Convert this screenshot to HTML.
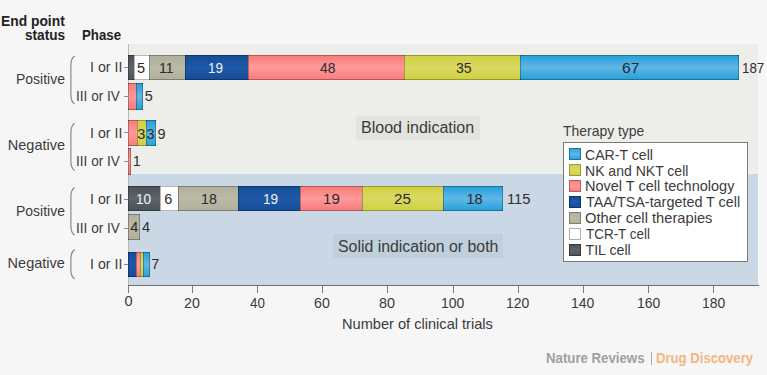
<!DOCTYPE html>
<html><head><meta charset="utf-8"><style>
html,body{margin:0;padding:0;}
body{width:767px;height:375px;position:relative;overflow:hidden;background:#f6f6f6;font-family:"Liberation Sans", sans-serif;}
.t{position:absolute;white-space:pre;transform-origin:0 0;}
</style></head><body>
<div style="position:absolute;left:128.30px;top:44.00px;width:630.20px;height:129.80px;background:#ededea;"></div>
<div style="position:absolute;left:128.30px;top:169.80px;width:630.20px;height:4.00px;background:linear-gradient(to bottom,#ededea,#f1f1ec);"></div>
<div style="position:absolute;left:128.30px;top:173.80px;width:630.20px;height:111.50px;background:#cad8e5;"></div>
<div style="position:absolute;left:356.10px;top:115.60px;width:123.70px;height:24.30px;background:#e3e3df;"></div>
<div style="position:absolute;left:333.00px;top:233.60px;width:170.30px;height:24.50px;background:#c0cfdc;"></div>
<div style="position:absolute;left:127.80px;top:44.00px;width:1.00px;height:249.00px;background:#b9b9b9;"></div>
<div style="position:absolute;left:128.30px;top:284.70px;width:630.50px;height:1.30px;background:#707070;"></div>
<div style="position:absolute;left:127.85px;top:285.50px;width:1.10px;height:7.50px;background:#7a7a7a;"></div>
<div style="position:absolute;left:191.87px;top:285.50px;width:1.10px;height:7.50px;background:#7a7a7a;"></div>
<div style="position:absolute;left:257.04px;top:285.50px;width:1.10px;height:7.50px;background:#7a7a7a;"></div>
<div style="position:absolute;left:322.22px;top:285.50px;width:1.10px;height:7.50px;background:#7a7a7a;"></div>
<div style="position:absolute;left:387.39px;top:285.50px;width:1.10px;height:7.50px;background:#7a7a7a;"></div>
<div style="position:absolute;left:452.56px;top:285.50px;width:1.10px;height:7.50px;background:#7a7a7a;"></div>
<div style="position:absolute;left:517.73px;top:285.50px;width:1.10px;height:7.50px;background:#7a7a7a;"></div>
<div style="position:absolute;left:582.90px;top:285.50px;width:1.10px;height:7.50px;background:#7a7a7a;"></div>
<div style="position:absolute;left:648.08px;top:285.50px;width:1.10px;height:7.50px;background:#7a7a7a;"></div>
<div style="position:absolute;left:713.25px;top:285.50px;width:1.10px;height:7.50px;background:#7a7a7a;"></div>
<div style="position:absolute;left:128.30px;top:55.00px;width:6.30px;height:25.30px;background:linear-gradient(to bottom,#4a5258 0%,#5d656b 50%,#4a5258 100%);box-shadow:inset 1px 0 0 rgba(0,0,0,0.28),inset 0 1px 0 rgba(0,0,0,0.28),inset 0 -1px 0 rgba(0,0,0,0.28);"></div>
<div style="position:absolute;left:134.00px;top:55.00px;width:15.90px;height:25.30px;background:linear-gradient(to bottom,#ffffff 0%,#ffffff 50%,#ffffff 100%);box-shadow:inset 1px 0 0 rgba(0,0,0,0.28),inset 0 1px 0 rgba(0,0,0,0.28),inset 0 -1px 0 rgba(0,0,0,0.28);"></div>
<div style="position:absolute;left:149.30px;top:55.00px;width:36.20px;height:25.30px;background:linear-gradient(to bottom,#b0af9b 0%,#bbbaa7 50%,#b0af9b 100%);box-shadow:inset 1px 0 0 rgba(0,0,0,0.28),inset 0 1px 0 rgba(0,0,0,0.28),inset 0 -1px 0 rgba(0,0,0,0.28);"></div>
<div style="position:absolute;left:184.90px;top:55.00px;width:63.30px;height:25.30px;background:linear-gradient(to bottom,#144c98 0%,#1f59a5 50%,#144c98 100%);box-shadow:inset 1px 0 0 rgba(0,0,0,0.28),inset 0 1px 0 rgba(0,0,0,0.28),inset 0 -1px 0 rgba(0,0,0,0.28);"></div>
<div style="position:absolute;left:247.60px;top:55.00px;width:157.40px;height:25.30px;background:linear-gradient(to bottom,#f77a7a 0%,#ff9a9a 50%,#f77a7a 100%);box-shadow:inset 1px 0 0 rgba(0,0,0,0.28),inset 0 1px 0 rgba(0,0,0,0.28),inset 0 -1px 0 rgba(0,0,0,0.28);"></div>
<div style="position:absolute;left:404.40px;top:55.00px;width:115.80px;height:25.30px;background:linear-gradient(to bottom,#d0d040 0%,#d9d963 50%,#d0d040 100%);box-shadow:inset 1px 0 0 rgba(0,0,0,0.28),inset 0 1px 0 rgba(0,0,0,0.28),inset 0 -1px 0 rgba(0,0,0,0.28);"></div>
<div style="position:absolute;left:519.60px;top:55.00px;width:219.40px;height:25.30px;background:linear-gradient(to bottom,#22a0d8 0%,#60b6e6 50%,#22a0d8 100%);box-shadow:inset 1px 0 0 rgba(0,0,0,0.28),inset 0 1px 0 rgba(0,0,0,0.28),inset 0 -1px 0 rgba(0,0,0,0.28),inset -1px 0 0 rgba(0,0,0,0.28);"></div>
<div style="position:absolute;left:128.30px;top:83.00px;width:8.20px;height:26.70px;background:linear-gradient(to bottom,#f77a7a 0%,#ff9a9a 50%,#f77a7a 100%);box-shadow:inset 1px 0 0 rgba(0,0,0,0.28),inset 0 1px 0 rgba(0,0,0,0.28),inset 0 -1px 0 rgba(0,0,0,0.28);"></div>
<div style="position:absolute;left:135.90px;top:83.00px;width:7.60px;height:26.70px;background:linear-gradient(to bottom,#22a0d8 0%,#60b6e6 50%,#22a0d8 100%);box-shadow:inset 1px 0 0 rgba(0,0,0,0.28),inset 0 1px 0 rgba(0,0,0,0.28),inset 0 -1px 0 rgba(0,0,0,0.28),inset -1px 0 0 rgba(0,0,0,0.28);"></div>
<div style="position:absolute;left:128.30px;top:120.00px;width:9.00px;height:25.70px;background:linear-gradient(to bottom,#f77a7a 0%,#ff9a9a 50%,#f77a7a 100%);box-shadow:inset 1px 0 0 rgba(0,0,0,0.28),inset 0 1px 0 rgba(0,0,0,0.28),inset 0 -1px 0 rgba(0,0,0,0.28);"></div>
<div style="position:absolute;left:136.70px;top:120.00px;width:10.20px;height:25.70px;background:linear-gradient(to bottom,#d0d040 0%,#d9d963 50%,#d0d040 100%);box-shadow:inset 1px 0 0 rgba(0,0,0,0.28),inset 0 1px 0 rgba(0,0,0,0.28),inset 0 -1px 0 rgba(0,0,0,0.28);"></div>
<div style="position:absolute;left:146.30px;top:120.00px;width:9.60px;height:25.70px;background:linear-gradient(to bottom,#22a0d8 0%,#60b6e6 50%,#22a0d8 100%);box-shadow:inset 1px 0 0 rgba(0,0,0,0.28),inset 0 1px 0 rgba(0,0,0,0.28),inset 0 -1px 0 rgba(0,0,0,0.28),inset -1px 0 0 rgba(0,0,0,0.28);"></div>
<div style="position:absolute;left:128.30px;top:148.30px;width:2.70px;height:26.40px;background:linear-gradient(to bottom,#f77a7a 0%,#ff9a9a 50%,#f77a7a 100%);box-shadow:inset 1px 0 0 rgba(0,0,0,0.28),inset 0 1px 0 rgba(0,0,0,0.28),inset 0 -1px 0 rgba(0,0,0,0.28),inset -1px 0 0 rgba(0,0,0,0.28);"></div>
<div style="position:absolute;left:128.30px;top:186.00px;width:31.90px;height:25.00px;background:linear-gradient(to bottom,#4a5258 0%,#5d656b 50%,#4a5258 100%);box-shadow:inset 1px 0 0 rgba(0,0,0,0.28),inset 0 1px 0 rgba(0,0,0,0.28),inset 0 -1px 0 rgba(0,0,0,0.28);"></div>
<div style="position:absolute;left:159.60px;top:186.00px;width:18.90px;height:25.00px;background:linear-gradient(to bottom,#ffffff 0%,#ffffff 50%,#ffffff 100%);box-shadow:inset 1px 0 0 rgba(0,0,0,0.28),inset 0 1px 0 rgba(0,0,0,0.28),inset 0 -1px 0 rgba(0,0,0,0.28);"></div>
<div style="position:absolute;left:177.90px;top:186.00px;width:60.80px;height:25.00px;background:linear-gradient(to bottom,#b0af9b 0%,#bbbaa7 50%,#b0af9b 100%);box-shadow:inset 1px 0 0 rgba(0,0,0,0.28),inset 0 1px 0 rgba(0,0,0,0.28),inset 0 -1px 0 rgba(0,0,0,0.28);"></div>
<div style="position:absolute;left:238.10px;top:186.00px;width:62.40px;height:25.00px;background:linear-gradient(to bottom,#144c98 0%,#1f59a5 50%,#144c98 100%);box-shadow:inset 1px 0 0 rgba(0,0,0,0.28),inset 0 1px 0 rgba(0,0,0,0.28),inset 0 -1px 0 rgba(0,0,0,0.28);"></div>
<div style="position:absolute;left:299.90px;top:186.00px;width:62.40px;height:25.00px;background:linear-gradient(to bottom,#f77a7a 0%,#ff9a9a 50%,#f77a7a 100%);box-shadow:inset 1px 0 0 rgba(0,0,0,0.28),inset 0 1px 0 rgba(0,0,0,0.28),inset 0 -1px 0 rgba(0,0,0,0.28);"></div>
<div style="position:absolute;left:361.70px;top:186.00px;width:82.10px;height:25.00px;background:linear-gradient(to bottom,#d0d040 0%,#d9d963 50%,#d0d040 100%);box-shadow:inset 1px 0 0 rgba(0,0,0,0.28),inset 0 1px 0 rgba(0,0,0,0.28),inset 0 -1px 0 rgba(0,0,0,0.28);"></div>
<div style="position:absolute;left:443.20px;top:186.00px;width:60.30px;height:25.00px;background:linear-gradient(to bottom,#22a0d8 0%,#60b6e6 50%,#22a0d8 100%);box-shadow:inset 1px 0 0 rgba(0,0,0,0.28),inset 0 1px 0 rgba(0,0,0,0.28),inset 0 -1px 0 rgba(0,0,0,0.28),inset -1px 0 0 rgba(0,0,0,0.28);"></div>
<div style="position:absolute;left:128.30px;top:214.10px;width:11.30px;height:25.60px;background:linear-gradient(to bottom,#b0af9b 0%,#bbbaa7 50%,#b0af9b 100%);box-shadow:inset 1px 0 0 rgba(0,0,0,0.28),inset 0 1px 0 rgba(0,0,0,0.28),inset 0 -1px 0 rgba(0,0,0,0.28),inset -1px 0 0 rgba(0,0,0,0.28);"></div>
<div style="position:absolute;left:128.30px;top:251.70px;width:8.70px;height:25.00px;background:linear-gradient(to bottom,#144c98 0%,#1f59a5 50%,#144c98 100%);box-shadow:inset 1px 0 0 rgba(0,0,0,0.28),inset 0 1px 0 rgba(0,0,0,0.28),inset 0 -1px 0 rgba(0,0,0,0.28);"></div>
<div style="position:absolute;left:136.40px;top:251.70px;width:3.90px;height:25.00px;background:linear-gradient(to bottom,#f77a7a 0%,#ff9a9a 50%,#f77a7a 100%);box-shadow:inset 1px 0 0 rgba(0,0,0,0.28),inset 0 1px 0 rgba(0,0,0,0.28),inset 0 -1px 0 rgba(0,0,0,0.28);"></div>
<div style="position:absolute;left:139.70px;top:251.70px;width:4.20px;height:25.00px;background:linear-gradient(to bottom,#d0d040 0%,#d9d963 50%,#d0d040 100%);box-shadow:inset 1px 0 0 rgba(0,0,0,0.28),inset 0 1px 0 rgba(0,0,0,0.28),inset 0 -1px 0 rgba(0,0,0,0.28);"></div>
<div style="position:absolute;left:143.30px;top:251.70px;width:7.10px;height:25.00px;background:linear-gradient(to bottom,#22a0d8 0%,#60b6e6 50%,#22a0d8 100%);box-shadow:inset 1px 0 0 rgba(0,0,0,0.28),inset 0 1px 0 rgba(0,0,0,0.28),inset 0 -1px 0 rgba(0,0,0,0.28),inset -1px 0 0 rgba(0,0,0,0.28);"></div>
<div style="position:absolute;left:123.50px;top:67.20px;width:4.50px;height:1.00px;background:#8a8a8a;"></div>
<div style="position:absolute;left:123.50px;top:96.00px;width:4.50px;height:1.00px;background:#8a8a8a;"></div>
<div style="position:absolute;left:123.50px;top:132.20px;width:4.50px;height:1.00px;background:#8a8a8a;"></div>
<div style="position:absolute;left:123.50px;top:161.00px;width:4.50px;height:1.00px;background:#8a8a8a;"></div>
<div style="position:absolute;left:123.50px;top:198.70px;width:4.50px;height:1.00px;background:#8a8a8a;"></div>
<div style="position:absolute;left:123.50px;top:228.00px;width:4.50px;height:1.00px;background:#8a8a8a;"></div>
<div style="position:absolute;left:123.50px;top:264.30px;width:4.50px;height:1.00px;background:#8a8a8a;"></div>
<svg style="position:absolute;left:0;top:0" width="767" height="375"><path d="M74.6 56 Q70.9 58.5 70.9 65 L70.9 94.9 Q70.9 101.4 74.6 103.9" fill="none" stroke="#8a8a8a" stroke-width="1.2"/><path d="M74.6 123.2 Q70.9 125.7 70.9 132.2 L70.9 161.6 Q70.9 168.1 74.6 170.6" fill="none" stroke="#8a8a8a" stroke-width="1.2"/><path d="M74.6 187.4 Q70.9 189.9 70.9 196.4 L70.9 226.2 Q70.9 232.7 74.6 235.2" fill="none" stroke="#8a8a8a" stroke-width="1.2"/><path d="M74.6 249.6 Q70.9 252.1 70.9 258.6 L70.9 270 Q70.9 276.5 74.6 279" fill="none" stroke="#8a8a8a" stroke-width="1.2"/></svg>
<div style="position:absolute;left:563.40px;top:142.40px;width:184.20px;height:119.20px;background:#fff;box-shadow:inset 0 0 0 1px #7a7a7a;"></div>
<div style="position:absolute;left:569.30px;top:148.00px;width:12.00px;height:11.80px;background:linear-gradient(to bottom,#22a0d8,#60b6e6 50%,#22a0d8);box-shadow:inset 0 0 0 1px #1a76a3;"></div>
<div style="position:absolute;left:569.30px;top:164.07px;width:12.00px;height:11.80px;background:linear-gradient(to bottom,#d0d040,#d9d963 50%,#d0d040);box-shadow:inset 0 0 0 1px #9a9a3a;"></div>
<div style="position:absolute;left:569.30px;top:180.14px;width:12.00px;height:11.80px;background:linear-gradient(to bottom,#f77a7a,#ff9a9a 50%,#f77a7a);box-shadow:inset 0 0 0 1px #c25a5a;"></div>
<div style="position:absolute;left:569.30px;top:196.21px;width:12.00px;height:11.80px;background:linear-gradient(to bottom,#144c98,#1f59a5 50%,#144c98);box-shadow:inset 0 0 0 1px #0e3565;"></div>
<div style="position:absolute;left:569.30px;top:212.28px;width:12.00px;height:11.80px;background:linear-gradient(to bottom,#b0af9b,#bbbaa7 50%,#b0af9b);box-shadow:inset 0 0 0 1px #80806f;"></div>
<div style="position:absolute;left:569.30px;top:228.35px;width:12.00px;height:11.80px;background:linear-gradient(to bottom,#ffffff,#ffffff 50%,#ffffff);box-shadow:inset 0 0 0 1px #b0b0a8;"></div>
<div style="position:absolute;left:569.30px;top:244.42px;width:12.00px;height:11.80px;background:linear-gradient(to bottom,#4a5258,#5d656b 50%,#4a5258);box-shadow:inset 0 0 0 1px #33393d;"></div>
<div style="position:absolute;left:650.80px;top:352.30px;width:1.10px;height:12.70px;background:#a8a8a8;"></div>
<div class="t" style="left:361.47px;top:120.00px;font-size:15.6px;line-height:15.6px;font-weight:400;color:#3a3a3a;transform:scaleX(1.0278)">Blood indication</div>
<div class="t" style="left:337.81px;top:239.00px;font-size:16px;line-height:16px;font-weight:400;color:#3a3a3a;transform:scaleX(0.9906)">Solid indication or both</div>
<div class="t" style="left:124.40px;top:294.00px;font-size:14.5px;line-height:14.5px;font-weight:400;color:#3a3a3a;transform:scaleX(1.0000)">0</div>
<div class="t" style="left:184.09px;top:296.00px;font-size:14.5px;line-height:14.5px;font-weight:400;color:#3a3a3a;transform:scaleX(0.9800)">20</div>
<div class="t" style="left:250.24px;top:296.00px;font-size:14.5px;line-height:14.5px;font-weight:400;color:#3a3a3a;transform:scaleX(0.9188)">40</div>
<div class="t" style="left:314.44px;top:296.00px;font-size:14.5px;line-height:14.5px;font-weight:400;color:#3a3a3a;transform:scaleX(0.9800)">60</div>
<div class="t" style="left:379.49px;top:296.00px;font-size:14.5px;line-height:14.5px;font-weight:400;color:#3a3a3a;transform:scaleX(0.9933)">80</div>
<div class="t" style="left:441.04px;top:296.00px;font-size:14.5px;line-height:14.5px;font-weight:400;color:#3a3a3a;transform:scaleX(0.9652)">100</div>
<div class="t" style="left:506.27px;top:296.00px;font-size:14.5px;line-height:14.5px;font-weight:400;color:#3a3a3a;transform:scaleX(0.9609)">120</div>
<div class="t" style="left:571.44px;top:296.00px;font-size:14.5px;line-height:14.5px;font-weight:400;color:#3a3a3a;transform:scaleX(0.9609)">140</div>
<div class="t" style="left:636.62px;top:296.00px;font-size:14.5px;line-height:14.5px;font-weight:400;color:#3a3a3a;transform:scaleX(0.9609)">160</div>
<div class="t" style="left:701.79px;top:296.00px;font-size:14.5px;line-height:14.5px;font-weight:400;color:#3a3a3a;transform:scaleX(0.9609)">180</div>
<div class="t" style="left:341.89px;top:317.00px;font-size:14.5px;line-height:14.5px;font-weight:400;color:#3a3a3a;transform:scaleX(1.0067)">Number of clinical trials</div>
<div class="t" style="left:136.90px;top:61.00px;font-size:14.5px;line-height:14.5px;font-weight:400;color:#2a2a2a;transform:scaleX(1.0000)">5</div>
<div class="t" style="left:159.24px;top:61.00px;font-size:14.5px;line-height:14.5px;font-weight:400;color:#2a2a2a;transform:scaleX(0.9643)">11</div>
<div class="t" style="left:207.97px;top:61.00px;font-size:14.5px;line-height:14.5px;font-weight:400;color:#eef2f6;transform:scaleX(0.9267)">19</div>
<div class="t" style="left:320.00px;top:61.00px;font-size:14.5px;line-height:14.5px;font-weight:400;color:#2a2a2a;transform:scaleX(0.9563)">48</div>
<div class="t" style="left:455.83px;top:61.00px;font-size:14.5px;line-height:14.5px;font-weight:400;color:#2a2a2a;transform:scaleX(0.9733)">35</div>
<div class="t" style="left:622.21px;top:61.00px;font-size:14.5px;line-height:14.5px;font-weight:400;color:#2a2a2a;transform:scaleX(1.0867)">67</div>
<div class="t" style="left:741.98px;top:61.00px;font-size:14.5px;line-height:14.5px;font-weight:400;color:#2e2e2e;transform:scaleX(0.9174)">187</div>
<div class="t" style="left:144.85px;top:89.00px;font-size:14.5px;line-height:14.5px;font-weight:400;color:#2e2e2e;transform:scaleX(1.0000)">5</div>
<div class="t" style="left:137.30px;top:127.00px;font-size:14.5px;line-height:14.5px;font-weight:400;color:#2a2a2a;transform:scaleX(1.0000)">3</div>
<div class="t" style="left:146.40px;top:127.00px;font-size:14.5px;line-height:14.5px;font-weight:400;color:#2a2a2a;transform:scaleX(1.0000)">3</div>
<div class="t" style="left:157.60px;top:127.00px;font-size:14.5px;line-height:14.5px;font-weight:400;color:#2e2e2e;transform:scaleX(1.0000)">9</div>
<div class="t" style="left:132.80px;top:154.00px;font-size:14.5px;line-height:14.5px;font-weight:400;color:#2e2e2e;transform:scaleX(1.0000)">1</div>
<div class="t" style="left:136.06px;top:192.00px;font-size:14.5px;line-height:14.5px;font-weight:400;color:#eef2f6;transform:scaleX(0.9400)">10</div>
<div class="t" style="left:164.20px;top:192.00px;font-size:14.5px;line-height:14.5px;font-weight:400;color:#2a2a2a;transform:scaleX(1.0000)">6</div>
<div class="t" style="left:200.61px;top:192.00px;font-size:14.5px;line-height:14.5px;font-weight:400;color:#2a2a2a;transform:scaleX(0.9867)">18</div>
<div class="t" style="left:263.26px;top:192.00px;font-size:14.5px;line-height:14.5px;font-weight:400;color:#eef2f6;transform:scaleX(0.9400)">19</div>
<div class="t" style="left:323.36px;top:192.00px;font-size:14.5px;line-height:14.5px;font-weight:400;color:#2a2a2a;transform:scaleX(1.0400)">19</div>
<div class="t" style="left:394.35px;top:192.00px;font-size:14.5px;line-height:14.5px;font-weight:400;color:#2a2a2a;transform:scaleX(1.0467)">25</div>
<div class="t" style="left:466.40px;top:192.00px;font-size:14.5px;line-height:14.5px;font-weight:400;color:#2a2a2a;transform:scaleX(1.0000)">18</div>
<div class="t" style="left:506.58px;top:192.00px;font-size:14.5px;line-height:14.5px;font-weight:400;color:#2e2e2e;transform:scaleX(1.0182)">115</div>
<div class="t" style="left:130.35px;top:220.00px;font-size:14.5px;line-height:14.5px;font-weight:400;color:#2a2a2a;transform:scaleX(1.0000)">4</div>
<div class="t" style="left:142.10px;top:220.00px;font-size:14.5px;line-height:14.5px;font-weight:400;color:#2e2e2e;transform:scaleX(1.0000)">4</div>
<div class="t" style="left:151.20px;top:257.00px;font-size:14.5px;line-height:14.5px;font-weight:400;color:#2e2e2e;transform:scaleX(1.0000)">7</div>
<div class="t" style="left:90.22px;top:60.00px;font-size:14.5px;line-height:14.5px;font-weight:400;color:#3c3c3c;transform:scaleX(0.9806)">I or II</div>
<div class="t" style="left:76.36px;top:89.00px;font-size:14.5px;line-height:14.5px;font-weight:400;color:#3c3c3c;transform:scaleX(0.9391)">III or IV</div>
<div class="t" style="left:90.22px;top:126.00px;font-size:14.5px;line-height:14.5px;font-weight:400;color:#3c3c3c;transform:scaleX(0.9806)">I or II</div>
<div class="t" style="left:76.36px;top:154.00px;font-size:14.5px;line-height:14.5px;font-weight:400;color:#3c3c3c;transform:scaleX(0.9391)">III or IV</div>
<div class="t" style="left:90.22px;top:192.00px;font-size:14.5px;line-height:14.5px;font-weight:400;color:#3c3c3c;transform:scaleX(0.9806)">I or II</div>
<div class="t" style="left:76.36px;top:221.00px;font-size:14.5px;line-height:14.5px;font-weight:400;color:#3c3c3c;transform:scaleX(0.9391)">III or IV</div>
<div class="t" style="left:90.22px;top:257.00px;font-size:14.5px;line-height:14.5px;font-weight:400;color:#3c3c3c;transform:scaleX(0.9806)">I or II</div>
<div class="t" style="left:16.34px;top:72.00px;font-size:14.5px;line-height:14.5px;font-weight:400;color:#3c3c3c;transform:scaleX(0.9633)">Positive</div>
<div class="t" style="left:7.80px;top:138.00px;font-size:14.5px;line-height:14.5px;font-weight:400;color:#3c3c3c;transform:scaleX(1.0000)">Negative</div>
<div class="t" style="left:16.34px;top:204.00px;font-size:14.5px;line-height:14.5px;font-weight:400;color:#3c3c3c;transform:scaleX(0.9633)">Positive</div>
<div class="t" style="left:7.60px;top:256.00px;font-size:14.5px;line-height:14.5px;font-weight:400;color:#3c3c3c;transform:scaleX(1.0000)">Negative</div>
<div class="t" style="left:0.97px;top:14.00px;font-size:14.8px;line-height:14.8px;font-weight:700;color:#222;transform:scaleX(0.9343)">End point</div>
<div class="t" style="left:24.88px;top:28.00px;font-size:14.8px;line-height:14.8px;font-weight:700;color:#222;transform:scaleX(0.9214)">status</div>
<div class="t" style="left:82.25px;top:28.00px;font-size:14.0px;line-height:14.0px;font-weight:700;color:#222;transform:scaleX(0.9475)">Phase</div>
<div class="t" style="left:562.80px;top:124.00px;font-size:14.5px;line-height:14.5px;font-weight:400;color:#3c3c3c;transform:scaleX(0.9607)">Therapy type</div>
<div class="t" style="left:585.01px;top:148.00px;font-size:14.2px;line-height:14.2px;font-weight:400;color:#3c3c3c;transform:scaleX(0.9940)">CAR-T cell</div>
<div class="t" style="left:585.01px;top:164.00px;font-size:14.2px;line-height:14.2px;font-weight:400;color:#3c3c3c;transform:scaleX(0.9883)">NK and NKT cell</div>
<div class="t" style="left:584.98px;top:179.00px;font-size:14.2px;line-height:14.2px;font-weight:400;color:#3c3c3c;transform:scaleX(1.0221)">Novel T cell technology</div>
<div class="t" style="left:586.00px;top:195.00px;font-size:14.2px;line-height:14.2px;font-weight:400;color:#3c3c3c;transform:scaleX(1.0132)">TAA/TSA-targeted T cell</div>
<div class="t" style="left:584.96px;top:211.00px;font-size:14.2px;line-height:14.2px;font-weight:400;color:#3c3c3c;transform:scaleX(1.0361)">Other cell therapies</div>
<div class="t" style="left:586.00px;top:227.00px;font-size:14.2px;line-height:14.2px;font-weight:400;color:#3c3c3c;transform:scaleX(0.9478)">TCR-T cell</div>
<div class="t" style="left:585.50px;top:243.00px;font-size:14.2px;line-height:14.2px;font-weight:400;color:#3c3c3c;transform:scaleX(1.0000)">TIL cell</div>
<div class="t" style="left:546.49px;top:351.00px;font-size:14.5px;line-height:14.5px;font-weight:700;color:#a0a0a0;transform:scaleX(0.9121)">Nature Reviews</div>
<div class="t" style="left:656.09px;top:351.00px;font-size:14.5px;line-height:14.5px;font-weight:700;color:#f2b67e;transform:scaleX(0.9057)">Drug Discovery</div>
</body></html>
